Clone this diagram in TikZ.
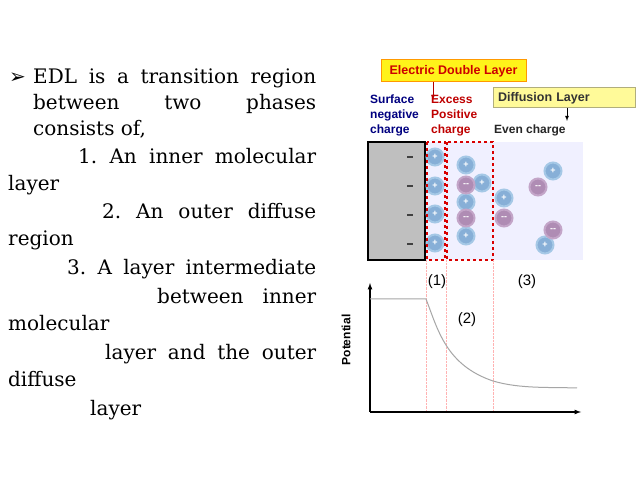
\documentclass[tikz,border=0pt]{standalone}
\usepackage{fontspec}
\setmainfont{DejaVu Serif}
\newfontfamily\dsans{DejaVu Sans}
\newfontfamily\lsans{Liberation Sans}
\definecolor{ionb}{RGB}{135,175,215}
\definecolor{ionbr}{RGB}{165,200,230}
\definecolor{ionp}{RGB}{175,140,180}
\definecolor{ionpr}{RGB}{195,165,200}
\begin{document}
\begin{tikzpicture}[x=1pt,y=-1pt,
  tx/.style={anchor=base west,inner sep=0,font=\fontsize{20}{22}\selectfont},
  lab/.style={anchor=base west,inner sep=0,font=\lsans\bfseries\fontsize{12}{14}\selectfont},
  num/.style={font=\lsans\fontsize{15}{16}\selectfont},
  pion/.style={circle,minimum size=17pt,inner sep=0,fill=ionb,draw=ionbr,line width=2pt,text=white,font=\lsans\bfseries\fontsize{9}{9}\selectfont},
  nion/.style={pion,fill=ionp,draw=ionpr}]
\useasboundingbox (0,0) rectangle (638,478);
\fill[white] (0,0) rectangle (638,478);
% text
\node[tx] (t0) at (9,84) {\dsans ➢};
\node[tx] (t1) at (33,84) {\hbox to 283pt{EDL\hfill is\hfill a\hfill transition\hfill region}};
\node[tx] (t2) at (33,110) {\hbox to 283pt{between\hfill two\hfill phases}};
\node[tx] (t3) at (33,136) {consists of,};
\node[tx] (t4) at (78,164) {\hbox to 238pt{1.\hfill An\hfill inner\hfill molecular}};
\node[tx] (t5) at (8,191) {layer};
\node[tx] (t6) at (102,219) {\hbox to 214pt{2.\hfill An\hfill outer\hfill diffuse}};
\node[tx] (t7) at (8,246) {region};
\node[tx] (t8) at (67,275) {\hbox to 249pt{3.\hfill A\hfill layer\hfill intermediate}};
\node[tx] (t9) at (157,304) {\hbox to 159pt{between\hfill inner}};
\node[tx] (t10) at (8,331) {molecular};
\node[tx] (t11) at (105,360) {\hbox to 211pt{layer\hfill and\hfill the\hfill outer}};
\node[tx] (t12) at (8,387) {diffuse};
\node[tx] (t13) at (90,416) {layer};
% headers
\node[draw=orange!80!yellow,fill=yellow!90!white,line width=1pt,minimum width=145pt,minimum height=22pt,inner sep=0,text=red!80!black,font=\lsans\bfseries\fontsize{12.5}{14}\selectfont] (edl) at (453.5,71) {Electric Double Layer};
\coordinate (edla) at (433,100);
\draw[-latex,red!70!black,thick] (edl.south -| edla) -- (edla);
\node[draw=gray!70!yellow,fill=yellow!40,line width=1pt,minimum width=142pt,minimum height=20pt,inner sep=0,font=\lsans\bfseries\fontsize{12.5}{14}\selectfont,text=black!80,text width=132pt] (dl) at (564,98) {Diffusion Layer};
\coordinate (dla) at (567,121);
\draw[-latex,black,thick] (dl.south -| dla) -- (dla);
\node[lab,text=blue!50!black] (s1) at (370,104) {Surface};
\node[lab,text=blue!50!black] (s2) at (370,119) {negative};
\node[lab,text=blue!50!black] (s3) at (370,134) {charge};
\node[lab,text=red!75!black] (e1) at (431,104) {Excess};
\node[lab,text=red!75!black] (e2) at (431,119) {Positive};
\node[lab,text=red!75!black] (e3) at (431,134) {charge};
\node[lab,text=black!85] (ev) at (494,134) {Even charge};
% regions
\fill[blue!6] (425,142) rectangle (583,260);
\draw[fill=gray!50,line width=1.2pt] (368,142) rectangle (425,260);
\foreach \yy in {157,186,215,244}{\fill[black!75] (407,\yy-1) rectangle (413,\yy+1);}
\foreach \p in {(435,157),(435,186),(435,214),(435,243),(466,165),(466,202),(466,236),(482,183),(504,198),(553,171),(545,245)}
  \node[pion] at \p {+};
\foreach \p in {(466,185),(466,218),(504,218),(538,187),(553,230)}
  \node[nion] at \p {--};
\draw[draw=red!85!black,dashed,line width=1.5pt] (427,142) rectangle (445,260);
\draw[draw=red!85!black,dashed,line width=1.5pt] (447,142) rectangle (493,260);
% plot
\foreach \xx in {426,446,493}{\draw[red!30,densely dotted] (\xx,260) -- (\xx,412);}
\node[num] (r1) at (437,282) {(1)};
\node[num] (r2) at (467,320) {(2)};
\node[num] (r3) at (527,282) {(3)};
\coordinate (o) at (370,412);
\coordinate (ytop) at (370,283);
\coordinate (xend) at (581,412);
\draw[-latex,line width=1.2pt] (o) -- (ytop);
\draw[-latex,line width=1.2pt] (o) -- (xend);
\draw[gray!70,line width=1pt] (370,299) -- (426,299) .. controls (438,330) and (446,365) .. (493,381) .. controls (520,389) and (550,387) .. (577,388);
\node[rotate=90,font=\lsans\bfseries\fontsize{12}{13}\selectfont] (pot) at (346,340) {Potential};
\end{tikzpicture}
\end{document}
